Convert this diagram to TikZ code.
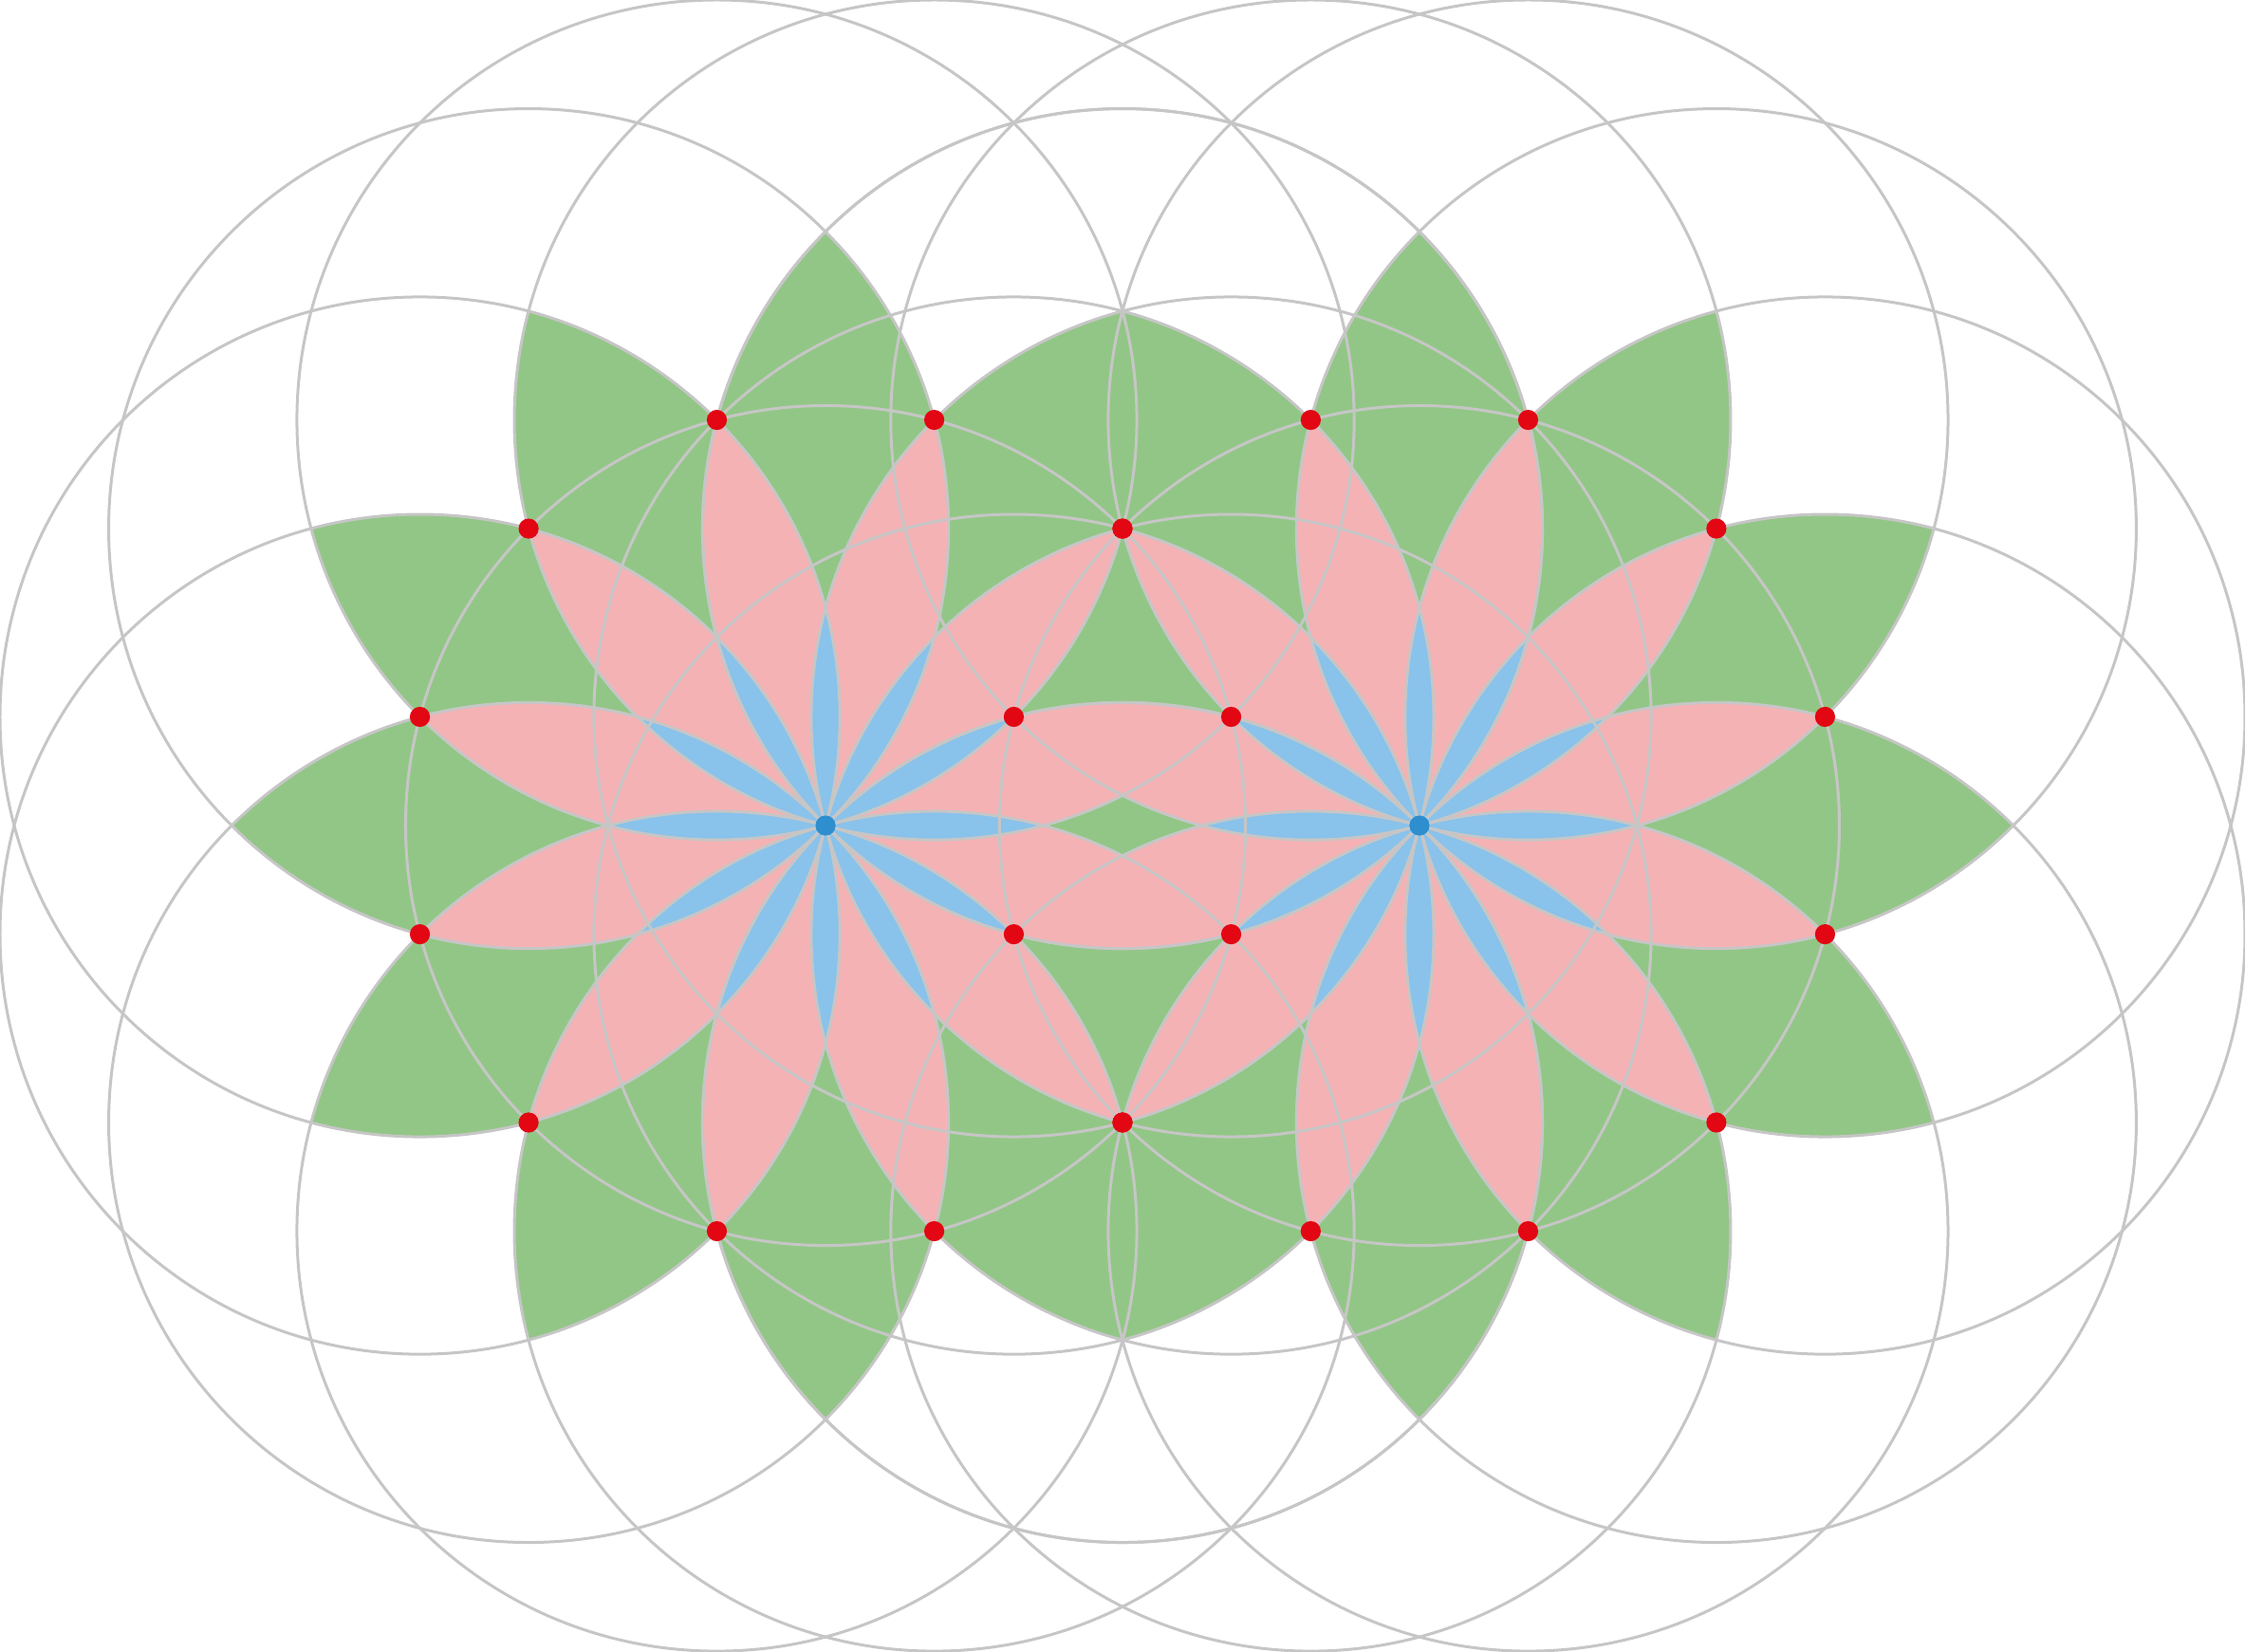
\documentclass[tikz,border=0pt]{standalone}
\usepackage{amsmath}

\definecolor{leafgreen}{HTML}{92C686}
\definecolor{petalpink}{HTML}{F5B2B5}
\definecolor{lensblue}{HTML}{89C2EB}
\definecolor{guidegray}{HTML}{C6C6C6}
\definecolor{dotred}{HTML}{E30613}
\definecolor{dotblue}{HTML}{2E8ECE}

\begin{document}
\begin{tikzpicture}[
    greenlens/.style={fill=leafgreen},
    pinkpetal/.style={fill=petalpink},
    bluelens/.style={fill=lensblue},
    guidecircle/.style={draw=guidegray, line width=0.58pt},
    reddot/.style={fill=dotred},
    bluedot/.style={fill=dotblue}
]

        \def\R{3}

        % Centres
        \coordinate (c1) at (0,0);
        \coordinate (c2) at ({sqrt(2)*\R},0);

        % Frame
        \useasboundingbox ({-\R-\R*cos(15)},{-\R-\R*sin(75)}) rectangle ({sqrt(2)*\R+\R+\R*cos(15)},{\R+\R*sin(75)});

        % Green lenses (centres 90 degrees apart)
        \foreach \c in {c1,c2} {
            \foreach \k in {0,1,...,11} {
                \begin{scope}
                    \clip (\c) ++(30*\k-45:\R) circle (\R);
                    \path[greenlens] (\c) ++(30*\k+45:\R) circle (\R);
                \end{scope}
            }
        }

        % Pink petals (centres 120 degrees apart)
        \foreach \c in {c1,c2} {
            \foreach \k in {0,1,...,11} {
                \begin{scope}
                    \clip (\c) ++(30*\k-45:\R) circle (\R);
                    \path[pinkpetal] (\c) ++(30*\k+75:\R) circle (\R);
                \end{scope}
            }
        }

        % Blue lenses (centres 150 degrees apart)
        \foreach \c in {c1,c2} {
            \foreach \k in {0,1,...,11} {
                \begin{scope}
                    \clip (\c) ++(30*\k-75:\R) circle (\R);
                    \path[bluelens] (\c) ++(30*\k+75:\R) circle (\R);
                \end{scope}
            }
        }

        % Guide circles
        \foreach \c in {c1,c2} {
            \draw[guidecircle] (\c) circle (\R);
            \foreach \k in {0,1,...,11} {
                \draw[guidecircle] (\c) ++(15+30*\k:\R) circle (\R);
            }
        }

        % Red points on the ring
        \foreach \c in {c1,c2} {
            \foreach \k in {0,1,...,11} {
                \path[reddot] (\c) ++(15+30*\k:\R) circle (0.072);
            }
        }

        % Blue centres
        \path[bluedot] (c1) circle (0.072);
        \path[bluedot] (c2) circle (0.072);

\end{tikzpicture}
\end{document}
